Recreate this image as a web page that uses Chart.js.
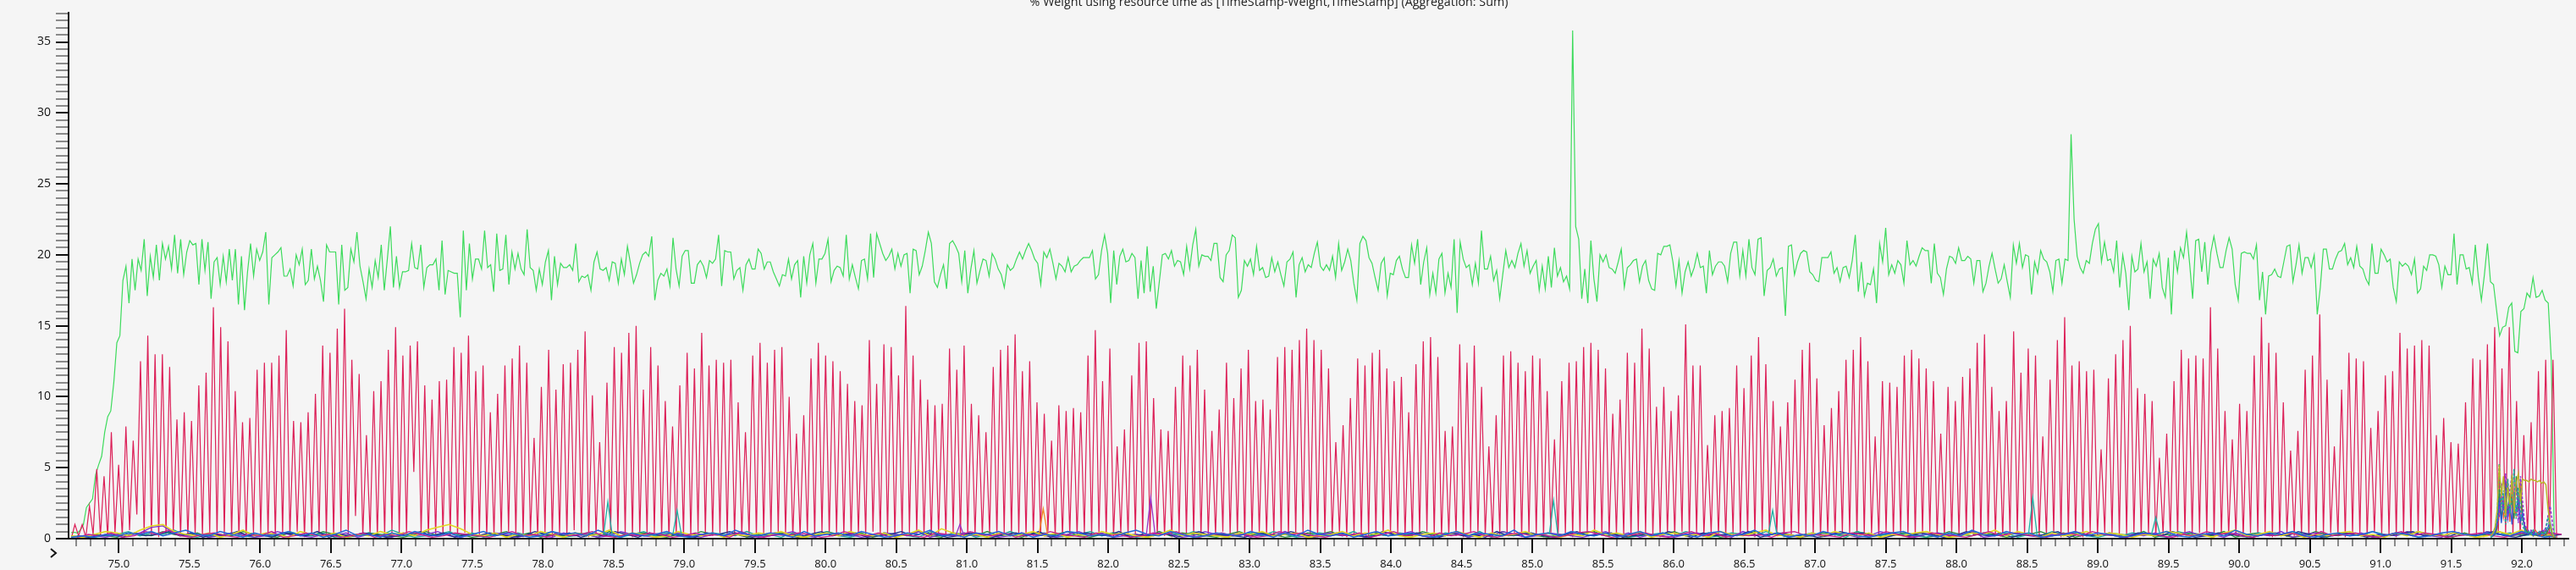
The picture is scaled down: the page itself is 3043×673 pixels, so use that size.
<!DOCTYPE html>
<html><head><meta charset="utf-8">
<script src="https://cdn.jsdelivr.net/npm/chart.js@4.4.1/dist/chart.umd.min.js"></script>
<style>html,body{margin:0;padding:0;background:#f5f5f5;overflow:hidden}canvas{display:block}</style>
</head><body><canvas id="c" width="3043" height="673"></canvas>
<script>
const TITLE = '% Weight using resource time as [TimeStamp-Weight,TimeStamp] (Aggregation: Sum)';
const X_MIN = 74.645, X_MAX = 92.335, Y_MIN = 0, Y_MAX = 37;
const X_MAJOR = 0.5, X_MINOR = 0.1, Y_MAJOR = 5, Y_MINOR = 0.5;

// Green series (largest process), sampled on a regular time grid
const GREEN_START = 74.664, GREEN_STEP = 0.0215;
const green = [
0.42,0.45,0.4,0.6,1.0,2.2,2.5,2.8,4.5,5.2,5.8,7.5,8.6,9.0,11.0,13.8,14.3,18.2,
19.2,16.6,19.7,17.5,19.7,18.9,21.1,17.1,19.9,18.4,20.7,18.2,20.8,19.7,20.6,19.0,21.4,18.7,21.1,18.6,
20.2,21.0,20.7,20.8,17.9,21.1,18.9,20.9,16.9,19.5,19.8,17.9,19.9,18.1,20.4,18.2,20.4,16.5,19.9,16.1,
18.8,20.8,18.5,20.4,19.6,20.2,21.6,16.5,19.8,20.0,20.2,20.5,18.5,18.5,19.0,17.8,20.0,19.3,20.4,17.9,
18.2,20.4,18.3,19.2,18.2,16.7,20.7,20.2,20.2,20.2,16.5,20.7,17.5,17.7,20.4,19.5,21.6,19.2,18.1,16.9,
19.0,17.7,19.6,18.4,20.7,17.5,19.7,22.0,17.7,19.9,17.7,18.8,18.8,18.9,20.8,19.1,19.0,20.7,17.7,19.1,
19.3,19.3,19.7,17.5,21.0,17.2,18.9,18.8,18.7,18.7,15.6,21.7,17.5,20.8,18.3,19.7,19.7,19.0,21.7,19.1,
19.3,17.4,21.5,18.9,19.0,21.4,17.9,20.2,19.0,20.1,19.0,18.6,21.8,19.1,18.9,17.5,19.0,17.9,19.5,20.3,
16.8,19.9,17.9,19.4,19.1,19.1,19.3,18.9,
20.8,18.1,18.5,18.4,18.6,17.5,19.5,20.2,19.0,18.9,19.1,18.2,19.5,19.4,18.0,19.7,18.6,
20.6,19.4,18.0,18.6,19.4,20.0,20.2,19.9,21.3,16.8,18.2,18.7,18.5,19.0,17.8,21.2,19.0,
17.8,19.9,20.3,20.3,18.0,18.0,19.3,19.6,19.2,18.4,19.6,19.4,19.7,21.4,17.8,20.3,
20.2,20.2,18.3,18.9,19.1,17.5,19.3,19.7,19.0,19.0,20.4,20.1,19.0,19.5,19.5,18.8,18.3,
17.8,18.6,18.5,19.7,18.3,19.3,19.6,17.0,19.9,18.0,20.0,20.8,18.0,19.7,19.7,20.1,21.1,
18.1,18.9,19.2,19.1,18.5,21.4,18.3,19.3,18.4,17.6,19.6,19.7,18.3,21.5,18.4,21.5,
20.8,20.1,19.6,19.9,20.4,19.0,20.1,19.2,20.0,20.1,17.3,20.4,20.3,18.6,19.2,20.3,21.6,
20.8,18.1,17.7,18.6,19.3,17.6,20.8,21.0,20.6,20.1,18.1,20.3,17.3,19.0,20.3,18.0,18.9,
19.7,19.6,18.5,20.1,19.7,19.0,18.6,17.7,19.3,18.9,19.1,19.7,20.2,19.7,20.3,20.8,
20.3,19.7,19.4,17.9,20.2,19.8,20.4,19.4,18.3,19.4,19.2,18.8,19.8,18.8,19.2,19.3,19.6,
19.8,19.8,19.8,20.3,18.3,18.6,20.3,21.4,20.1,16.6,20.3,17.9,19.9,20.4,19.5,19.6,20.1,
19.8,16.9,19.6,17.3,20.6,17.4,19.2,16.2,18.1,20.0,20.1,19.7,20.3,19.2,19.6,19.5,18.6,
20.6,19.0,20.7,21.8,19.2,20.0,19.9,19.9,19.6,20.8,20.8,18.4,18.1,20.0,20.3,21.4,
21.2,17.0,17.5,19.6,19.2,19.7,18.6,20.6,18.9,19.1,18.4,18.5,19.8,18.8,19.5,18.6,17.8,
19.5,19.7,20.2,17.0,19.3,19.8,18.8,19.3,19.1,20.1,20.9,19.2,18.9,19.3,18.9,19.9,18.4,
20.8,18.9,19.5,20.4,19.6,18.0,16.8,20.8,21.3,21.0,19.8,19.4,18.4,17.5,19.4,19.8,
17.1,18.7,18.6,19.6,19.9,19.0,18.4,18.4,20.7,19.4,21.1,17.9,19.5,20.5,17.2,18.7,17.3,
19.7,20.1,17.3,18.7,17.7,21.1,15.9,20.9,19.7,19.1,19.3,17.9,19.4,18.0,21.7,19.0,19.0,
19.9,18.2,18.9,16.9,18.6,20.3,19.1,19.6,19.1,20.1,20.8,19.2,20.3,18.7,19.2,19.6,
17.5,19.2,17.6,19.9,17.7,20.5,18.5,19.1,18.1,18.5,17.6,
35.8,22.0,21.1,16.9,19.0,16.6,
21.0,18.3,16.7,20.0,19.5,20.0,19.1,19.0,18.7,19.5,20.4,17.7,19.1,19.3,19.6,19.7,18.1,
19.2,19.6,18.2,17.6,17.5,20.1,20.0,20.6,20.6,20.7,19.5,17.8,19.6,17.3,18.8,19.5,18.5,
19.1,20.1,19.1,19.2,17.3,20.3,18.6,19.2,19.5,19.5,19.2,18.1,20.1,20.9,20.9,18.5,
20.3,18.5,21.1,19.1,18.6,21.1,21.2,17.1,18.9,19.1,19.7,18.5,19.0,19.1,15.7,20.6,20.7,
18.6,19.5,20.1,20.3,20.2,18.8,18.6,18.2,18.1,19.8,19.8,19.8,20.2,18.7,19.1,18.1,19.1,
19.2,18.4,19.6,21.4,17.4,19.5,17.1,18.0,17.9,19.0,16.6,20.8,19.5,21.9,18.6,19.3,
18.7,19.6,19.3,18.0,21.0,19.3,19.6,19.2,19.9,20.5,20.3,20.3,18.0,20.8,18.7,18.4,17.2,
19.0,19.9,19.8,19.4,20.5,19.6,19.6,19.9,19.7,18.0,19.6,19.6,17.4,18.0,19.2,20.1,19.0,
18.0,18.3,19.3,18.1,17.0,20.7,19.4,20.8,19.1,20.0,19.9,17.2,19.5,18.7,20.3,19.7,
19.5,18.8,17.4,19.6,19.7,18.0,19.7,19.6,
28.5,22.5,19.9,19.1,18.7,19.6,19.4,20.8,21.8,
22.2,19.5,20.9,19.6,19.7,18.8,21.0,17.7,20.0,18.7,16.1,19.9,18.8,19.0,20.8,18.8,19.5,
16.9,19.7,19.2,20.1,17.7,17.0,19.8,15.8,20.3,18.8,20.5,19.8,21.6,19.4,16.9,21.0,21.1,
18.8,20.9,17.9,20.2,21.3,20.1,19.1,19.1,20.3,21.2,20.4,17.9,16.8,20.1,20.2,20.1,
20.1,19.7,20.7,16.8,18.8,15.8,18.5,18.6,19.0,18.5,18.4,19.5,20.6,20.7,18.1,19.3,20.7,
18.7,19.8,19.8,19.1,20.0,15.8,17.7,20.4,20.4,19.0,19.0,19.7,20.2,20.3,20.8,19.3,19.8,
19.1,20.6,19.2,19.0,18.3,17.9,20.8,18.7,18.7,20.4,20.0,19.5,19.7,17.7,16.7,19.5,
19.2,19.4,19.2,18.6,19.7,17.3,17.6,19.2,18.9,20.0,20.0,19.9,19.3,17.7,19.2,18.6,18.6,
21.5,17.9,20.0,20.0,19.0,19.1,18.0,20.7,18.4,
16.8,18.6,20.8,18.1,17.9,16.1,14.3,14.9,15.0,16.3,16.6,13.2,13.1,16.0,16.2,17.3,17.0,18.4,17.0,17.1,17.5,16.8,16.6,12.6,0
];

// Red series: alternating lows and peaks on its own grid
const RED_START = 74.664, RED_STEP = 0.02578;
const redPeaks = [
1.0,1.0,2.3,4.9,4.4,7.5,5.2,7.9,6.9,12.5,14.3,13.0,13.0,12.1,8.4,8.9,8.3,10.8,11.7,16.3,
14.9,13.9,10.4,8.2,8.5,11.9,12.4,12.4,12.9,14.7,8.3,8.2,8.9,10.2,13.6,13.1,14.8,16.2,12.6,11.6,
7.3,10.4,11.1,13.3,14.9,12.9,13.6,13.9,10.8,9.8,11.1,11.2,13.5,13.1,14.3,11.8,12.2,8.9,10.2,12.2,
12.7,13.6,12.4,7.1,10.7,13.3,10.5,12.3,12.4,
13.3,14.6,10.1,6.8,11.0,13.5,13.1,14.5,15.0,10.5,13.5,12.2,9.7,7.9,10.8,13.1,12.0,14.5,12.2,12.6,
12.4,12.6,9.6,7.5,12.9,13.8,12.4,13.3,13.5,10.0,7.4,8.7,12.7,13.8,12.9,12.5,11.8,10.9,9.7,9.4,
14.0,10.9,13.7,13.5,11.5,16.4,12.9,11.2,9.8,9.4,9.5,13.4,11.9,13.6,9.5,8.7,7.5,12.1,13.3,13.6,
14.4,11.8,12.5,9.6,8.8,6.9,9.4,9.0,9.2,8.9,
12.9,14.7,11.1,13.4,6.5,7.7,11.5,13.8,13.9,9.9,7.7,7.6,10.7,12.9,12.2,13.3,10.5,7.6,9.1,12.4,
9.9,12.0,13.3,9.7,9.8,9.1,12.8,13.5,13.3,14.0,14.8,14.0,13.3,12.0,6.8,8.0,9.9,12.7,12.2,13.1,
13.3,12.0,11.1,11.4,8.9,12.3,13.9,14.2,12.8,7.6,7.9,13.7,12.4,13.6,10.7,6.5,8.7,12.9,13.2,12.4,
11.8,12.9,12.7,10.4,7.0,11.1,12.4,12.5,13.5,13.8,
13.3,12.0,8.8,9.8,13.1,12.4,14.8,13.4,9.3,10.7,9.0,10.1,15.1,12.2,12.2,6.6,8.7,9.0,9.2,12.2,
10.6,12.9,14.2,12.3,9.7,7.9,9.6,11.2,13.3,13.8,11.3,8.0,9.2,10.4,12.6,13.3,14.2,12.5,7.2,11.1,
11.0,10.7,12.9,13.3,12.7,12.0,11.1,7.4,10.7,9.7,11.4,12.0,13.8,14.4,10.7,9.0,9.7,14.6,11.7,13.4,
12.9,7.2,11.2,14.0,15.6,12.2,12.5,11.8,11.9,
6.3,11.3,13.0,14.0,15.0,10.6,10.2,9.7,5.7,7.4,11.1,13.3,12.7,12.9,12.7,16.3,13.4,9.0,7.0,9.5,
9.0,12.9,15.6,13.8,13.1,9.6,6.2,7.6,11.9,12.9,15.8,11.2,6.5,10.5,13.1,12.7,12.5,7.8,9.0,11.5,
11.8,14.5,13.4,13.6,14.0,13.6,7.3,8.5,6.8,6.7,9.6,12.7,12.6,13.7,14.9,12.0,14.9,9.7,7.3,8.2,
11.8,12.6,12.6
];
const redLows = [
0,.2,.1,.3,.2,.1,.4,.2,.6,1.7,.3,.2,.1,.3,.5,.2,.1,.3,.2,.4,
.1,.3,.2,.2,.1,.4,.3,.2,.1,.3,.2,.5,.1,.2,.3,.2,.1,.4,.3,1.6,
.2,.3,.1,.2,.4,.3,.2,4.7,.3,.1,.2,.3,.2,.1,.4,.2,.3,.1,.2,.3,
.5,.2,.1,.3,.2,.4,.1,.3,.2,.6,.2,.1,.3,.2,.4,.2,.3,.1,.2,.3,
.4,.2,.1,.3,.2,.1,.5,.3,.2,.4,.1,.2,.3,.2,.1,.3,.2,.4,.3,.1,
.2,.3,.1,.4,.2,.3,.2,.1,.3,.2,.5,.2,.3,.1,.2,.4,.3,.2,.1,.3,
.2,.4,.1,.3,.2,.2,.3,.1,.4,.2,.3,.1,.2,.3,.5,.2,.1,.3,.2,.4,
.1,.3,.2,.1,.4,.2,.3,.1,.2,.3,.2,.1,.4,.3,.2,.1,.3,.2,.5,.2,
.3,.1,.2,.4,.2,.3,.1,.2,.3,.4,.2,.1,.3,.2,.4,.1,.3,.2,.1,.3,
.2,.4,.3,.1,.2,.3,.5,.2,.1,.3,.2,.1,.4,.3,.2,.1,.3,.2,.4,.1,
.3,.2,.1,.4,.2,.3,.1,.2,.3,.4,.2,.1,.3,.2,.1,.4,.3,.2,.1,.3,
.2,.5,.1,.3,.2,.4,.2,.1,.3,.2,.3,.1,.4,.2,.3,.1,.2,.4,.3,.2,
.1,.3,.2,.4,.3,.1,.2,.3,.1,.4,.2,.3,.2,.1,.3,.5,.2,.1,.3,.2,
.4,.2,.1,.3,.2,.1,.4,.3,.2,.3,.1,.2,.4,.1,.3,.2,.1,.3,.2,.4,
.3,.1,.2,.3,.2,.4,.1,.3,.2,.1,.3,.2,.4,.3,.1,.2,.3,.2,.1,.4,
.2,.3,.1,.2,.4,.2,.3,.1,.2,.3,.4,.2,.1,.3,.2,.1,.4,.3,.2,.1,
.3,.2,.4,.1,.3,.2,.1,.3,.4,.2,.3,.1,.2,.4,.3,.2,.1,.3,.2,.1,
0,0
];

// Low background processes (coarser grid)
const NOISE_START = 74.664, NOISE_STEP = 0.081;
const NOISE_START_B = 74.7045;
const noiseBlue = [
.1,.2,.1,.3,.2,.4,.3,.5,.2,.4,.6,.3,.2,.5,.3,.1,.4,.2,.3,.5,
.2,.4,.1,.3,.6,.2,.3,.1,.4,.2,.5,.3,.2,.4,.1,.3,.5,.2,.4,.3,
.1,.2,.5,.3,.4,.2,.6,.3,.1,.4,.2,.3,.5,.2,.1,.3,.4,.2,.6,.3,
.2,.4,.3,.1,.5,.2,.3,.4,.2,.5,.3,.1,.2,.4,.3,.6,.2,.3,.1,.4,
.3,.5,.2,.4,.1,.3,.2,.5,.4,.2,.3,.1,.4,.6,.3,.2,.5,.3,.1,.2,
.4,.3,.2,.5,.3,.1,.4,.2,.6,.3,.2,.4,.1,.3,.5,.2,.3,.4,.2,.1,
.3,.5,.2,.4,.3,.2,.6,.1,.3,.4,.2,.5,.3,.2,.4,.1,.3,.5,.2,.4,
.2,.3,.1,.4,.5,.2,.3,.6,.2,.4,.1,.3,.2,.5,.3,.4,.2,.1,.3,.4,
.5,.2,.3,.1,.4,.2,.6,.3,.2,.5,.3,.4,.1,.2,.3,.5,.2,.4,.3,.1,
.2,.4,.3,.5,.2,.1,.3,.4,.2,.6,.3,.2,.4,.3,.5,.2,.1,.3,.4,.2,
.3,.5,.2,.4,.3,.1,.2,.4,.5,.3,.2,.4,.3,.2,.5,.3,.1,.2
];
const noiseYellow = [
.2,.1,.3,.5,.4,.2,.6,.9,1.0,.5,.3,.2,.4,.1,.3,.6,.2,.4,.3,.1,
.5,.3,.2,.4,.1,.3,.2,.5,.3,.4,.2,.6,.8,1.0,.7,.3,.2,.4,.1,.3,
.2,.5,.3,.1,.4,.2,.3,.6,.2,.4,.3,.1,.2,.5,.3,.2,.4,.1,.3,.2,
.4,.3,.5,.2,.1,.3,.4,.2,.5,.3,.2,.4,.1,.3,.6,.2,.7,.4,.2,.3,
.1,.4,.2,.3,.5,.2,.4,.1,.3,.2,.5,.3,.4,.2,.1,.3,.6,.2,.4,.3,
.2,.1,.4,.3,.5,.2,.3,.4,.1,.2,.3,.5,.2,.4,.3,.6,.2,.1,.3,.4,
.2,.5,.3,.1,.4,.2,.3,.5,.2,.4,.1,.3,.2,.6,.3,.4,.2,.5,.1,.3,
.4,.2,.3,.1,.5,.3,.2,.4,.6,.2,.3,.1,.4,.2,.5,.3,.2,.4,.1,.3,
.2,.4,.5,.3,.1,.2,.4,.3,.6,.2,.5,.3,.1,.4,.2,.3,.5,.2,.4,.3,
.1,.3,.2,.5,.4,.2,.3,.1,.4,.6,.2,.3,.5,.2,.4,.1,.3,.2,.4,.5,
.2,.3,.1,.4,.2,.5,.3,.2,.4,.3,.1,.2,.5,.3,.6,.2,.3,.2
];
const noisePurple = [
0,.1,.2,.1,.3,.2,.4,.8,.9,.4,.2,.3,.1,.2,.4,.3,.1,.2,.5,.3,
.2,.1,.3,.2,.4,.1,.3,.2,.1,.4,.2,.3,.5,.2,.1,.3,.2,.4,.3,.1,
.3,.2,.1,.4,.2,.3,.1,.2,.5,.3,.2,.1,.3,.4,.2,.1,.3,.2,.4,.3,
.1,.2,.3,.5,.2,.1,.4,.2,.3,.1,.2,.4,.3,.2,.5,.1,.3,.2,.4,.2,
.3,.1,.2,.4,.3,.2,.1,.3,.5,.2,.4,.1,.2,.3,.2,.4,.3,.1,.2,.5,
.3,.2,.4,.1,.3,.2,.5,.2,.1,.3,.4,.2,.3,.1,.2,.4,.3,.5,.2,.1,
.2,.4,.1,.3,.2,.5,.3,.1,.2,.4,.3,.2,.1,.3,.5,.2,.4,.1,.3,.2,
.1,.3,.4,.2,.3,.1,.5,.2,.3,.4,.2,.1,.3,.2,.4,.3,.1,.2,.5,.3,
.2,.1,.3,.4,.2,.3,.5,.1,.2,.3,.4,.2,.1,.3,.2,.5,.3,.2,.4,.1,
.3,.2,.4,.1,.3,.5,.2,.3,.1,.4,.2,.3,.2,.5,.1,.3,.4,.2,.3,.2,
.4,.1,.3,.2,.5,.3,.2,.1,.4,.3,.2,.5,.3,.2,.4,.3,.6,.2
];
const noiseTeal = [
.1,.2,.1,.2,.3,.5,.2,.4,.3,.6,.2,.1,.3,.2,.4,.2,.1,.3,.2,.5,
.3,.2,.4,.1,.2,.3,.4,.2,.6,.3,.1,.2,.3,.5,.2,.4,.1,.3,.2,.4,
.2,.3,.5,.1,.2,.4,.3,.2,.1,.3,.5,.2,.4,.3,.1,.2,.4,.3,.2,.5,
.2,.3,.1,.4,.2,.3,.5,.2,.1,.3,.2,.4,.3,.2,.1,.5,.3,.2,.4,.1,
.3,.2,.5,.2,.3,.4,.1,.2,.3,.5,.2,.4,.3,.1,.2,.3,.4,.2,.5,.3,
.2,.1,.3,.4,.2,.5,.3,.1,.2,.4,.3,.2,.5,.1,.3,.2,.4,.3,.2,.1,
.4,.3,.2,.5,.1,.3,.2,.4,.3,.2,.1,.5,.3,.2,.4,.3,.1,.2,.3,.4,
.2,.5,.3,.1,.2,.4,.3,.2,.5,.3,.1,.2,.4,.2,.3,.1,.5,.3,.2,.4,
.3,.2,.1,.4,.3,.2,.5,.3,.2,.4,.1,.3,.2,.5,.3,.4,.2,.1,.3,.2,
.4,.3,.2,.1,.5,.3,.2,.4,.2,.3,.1,.4,.3,.2,.5,.3,.2,.1,.4,.3,
.2,.5,.3,.2,.4,.1,.3,.2,.4,.3,.2,.5,.3,.4,.2,.3,.5,.3
];
const noiseGreen = [
.2,.1,.3,.2,.1,.4,.3,.2,.5,.3,.2,.4,.1,.3,.2,.5,.3,.2,.1,.4,
.3,.2,.5,.3,.1,.2,.4,.3,.2,.1,.3,.5,.2,.4,.3,.1,.2,.3,.5,.2,
.4,.1,.3,.2,.4,.3,.1,.5,.2,.3,.4,.2,.1,.3,.2,.5,.3,.2,.4,.1,
.3,.2,.4,.3,.1,.2,.5,.3,.2,.4,.1,.3,.2,.3,.5,.2,.1,.4,.3,.2,
.5,.2,.3,.1,.4,.2,.3,.5,.2,.1,.3,.4,.2,.3,.1,.5,.2,.4,.3,.2,
.1,.3,.5,.2,.4,.3,.1,.2,.4,.3,.5,.2,.3,.1,.4,.2,.3,.2,.5,.3,
.2,.4,.1,.3,.2,.5,.3,.4,.2,.1,.3,.2,.4,.5,.2,.3,.1,.4,.2,.3,
.5,.2,.3,.4,.1,.2,.3,.5,.2,.4,.3,.1,.2,.4,.3,.2,.5,.1,.3,.2,
.4,.3,.1,.2,.5,.3,.2,.4,.3,.1,.2,.3,.5,.2,.4,.1,.3,.2,.4,.3,
.2,.5,.1,.3,.2,.4,.3,.2,.5,.1,.3,.4,.2,.3,.1,.2,.5,.3,.2,.4,
.3,.1,.2,.4,.3,.5,.2,.3,.1,.4,.2,.3,.5,.2,.3,.4,.2,.1
];
const noiseMagenta = [
.1,.3,.2,.4,.1,.2,.5,.3,.6,.2,.1,.3,.4,.2,.1,.3,.2,.5,.1,.2,
.4,.2,.3,.1,.2,.4,.1,.3,.2,.5,.3,.1,.2,.4,.3,.2,.1,.3,.5,.2,
.3,.1,.4,.2,.3,.5,.2,.1,.3,.2,.4,.3,.1,.2,.4,.2,.3,.1,.5,.2,
.1,.3,.2,.4,.3,.1,.2,.5,.3,.2,.4,.1,.3,.2,.1,.4,.3,.2,.5,.3,
.2,.4,.1,.3,.2,.5,.3,.2,.1,.4,.2,.3,.1,.2,.4,.3,.5,.2,.1,.3,
.4,.2,.3,.1,.2,.5,.3,.4,.2,.1,.3,.2,.4,.1,.3,.5,.2,.3,.1,.4,
.2,.3,.5,.2,.1,.3,.4,.2,.3,.1,.2,.4,.5,.3,.1,.2,.3,.4,.2,.1,
.3,.5,.2,.4,.1,.3,.2,.3,.1,.4,.5,.2,.3,.2,.1,.4,.3,.2,.5,.3,
.1,.2,.4,.3,.2,.1,.3,.5,.2,.4,.3,.2,.1,.3,.4,.2,.5,.3,.2,.1,
.3,.4,.2,.1,.3,.2,.5,.3,.4,.2,.1,.3,.2,.4,.3,.1,.5,.2,.3,.4,
.2,.1,.3,.5,.2,.4,.3,.1,.2,.3,.4,.2,.1,.3,.5,.2,.4,.3
];
const noiseNavy = [
.2,.1,.2,.3,.1,.4,.2,.3,.5,.2,.4,.1,.3,.2,.5,.2,.3,.1,.4,.3,
.2,.5,.1,.3,.2,.4,.3,.1,.2,.3,.5,.2,.4,.1,.3,.2,.4,.3,.1,.2,
.5,.3,.2,.4,.1,.3,.2,.5,.3,.1,.4,.2,.3,.2,.1,.4,.3,.5,.2,.1,
.3,.4,.2,.1,.3,.5,.2,.3,.4,.1,.2,.3,.5,.2,.4,.3,.1,.2,.4,.2,
.1,.3,.4,.2,.5,.1,.3,.2,.4,.3,.2,.5,.1,.3,.2,.4,.1,.3,.5,.2,
.3,.2,.1,.4,.3,.2,.5,.3,.1,.2,.4,.3,.2,.1,.5,.3,.2,.4,.3,.1,
.4,.2,.3,.1,.5,.2,.3,.4,.2,.1,.3,.5,.2,.3,.4,.1,.2,.3,.2,.5,
.3,.1,.4,.2,.3,.2,.5,.1,.3,.4,.2,.3,.1,.2,.5,.3,.4,.2,.1,.3,
.2,.4,.3,.1,.2,.5,.3,.2,.4,.1,.3,.2,.3,.5,.1,.4,.2,.3,.2,.1,
.4,.3,.2,.5,.3,.1,.2,.4,.3,.2,.1,.3,.4,.2,.5,.3,.1,.2,.4,.3,
.1,.3,.2,.4,.5,.2,.3,.1,.4,.2,.3,.5,.2,.1,.3,.4,.2,.3
];

// Isolated short bursts of other processes
const spikeTealT = [78.43,78.46,78.49, 78.92,78.95,78.98, 85.12,85.15,85.18, 86.67,86.70,86.73, 88.51,88.54,88.57, 89.38,89.41,89.44];
const spikeTealV = [.3,2.6,.3, .3,2.0,.3, .3,2.7,.3, .3,2.0,.3, .3,2.9,.3, .3,1.5,.3];
const spikePurpleT = [80.92,80.95,80.98, 82.27,82.30,82.33];
const spikePurpleV = [.2,1.0,.2, .3,2.9,.4];
const spikeOrangeT = [81.51,81.54,81.57];
const spikeOrangeV = [.3,2.1,.3];

// End-of-trace burst of many processes
const BURST_START = 91.78, BURST_STEP = 0.015;
const burstOlive  = [0.2,0.4,0.8,2.0,5.2,3.0,4.4,1.6,3.6,2.4,4.5,1.8,3.9,4.6,2.6,4.2,4.1,4.1,4.0,4.2,4.1,4.1,4.0,4.1,3.9,4.0,3.8,2.1,1.0,0.4,0.1];
const burstTeal   = [0.1,0.3,0.6,1.4,5.3,2.2,3.4,1.0,4.2,1.8,3.0,4.9,1.4,3.6,2.1,0.9,0.6,0.4,0.5,0.3,0.6,0.4,0.3,0.5,0.4,0.3,0.6,1.5,0.8,0.3,0.1];
const burstPurple = [0.2,0.3,0.5,0.9,1.6,3.9,2.0,4.6,1.3,3.4,4.5,2.2,3.8,1.1,4.4,2.6,1.0,0.7,0.5,0.6,0.4,0.5,0.3,0.4,0.6,0.5,0.8,1.6,2.3,1.2,0.1];
const burstBlue   = [0.1,0.2,0.4,1.2,2.6,1.1,2.9,3.2,1.4,2.5,1.0,3.3,2.0,2.8,1.2,1.8,0.6,0.4,0.3,0.5,0.2,0.4,0.3,0.2,0.4,0.3,0.5,0.8,1.2,0.4,0.1];
const burstGreen  = [0.1,0.2,0.3,0.8,3.5,1.5,2.2,4.0,1.8,3.1,2.7,1.4,4.4,2.0,3.3,1.6,0.8,0.5,0.4,0.3,0.5,0.4,0.2,0.3,0.5,0.4,0.3,0.6,0.9,0.3,0.1];
const burstOrange = [0.1,0.2,0.4,0.7,1.8,3.0,1.5,2.4,4.2,1.2,3.6,2.2,1.6,3.0,4.0,1.4,0.9,0.6,0.4,0.3,0.5,0.6,0.4,0.3,0.2,0.4,0.6,0.4,0.3,0.2,0.1];

// ---------- build data tables ----------
const grid = (start, step, arr) => arr.map((v, i) => ({x: start + i * step, y: v}));
const pairs = (ts, vs) => {
  const out = [];
  ts.forEach((t, i) => {
    if (i > 0 && t - ts[i - 1] > 0.2) out.push({x: (t + ts[i - 1]) / 2, y: null});
    out.push({x: t, y: vs[i]});
  });
  return out;
};
const redData = [];
for (let k = 0; k < redLows.length; k++) {
  redData.push({x: RED_START + 2 * k * RED_STEP, y: redLows[k]});
  if (k < redPeaks.length) redData.push({x: RED_START + (2 * k + 1) * RED_STEP, y: redPeaks[k]});
}

const line = (data, color, width, extra) => Object.assign({
  data, borderColor: color, backgroundColor: color, borderWidth: width,
  pointRadius: 0, fill: false, tension: 0, spanGaps: false
}, extra || {});

const datasets = [
  line(grid(BURST_START, BURST_STEP, burstOlive), '#b9b627', 1.4),
  line(grid(BURST_START, BURST_STEP, burstTeal), '#23ad9c', 1.6, {borderDash: [3, 2]}),
  line(grid(BURST_START, BURST_STEP, burstPurple), '#8b2bd3', 1.5, {borderDash: [3, 2]}),
  line(grid(BURST_START, BURST_STEP, burstBlue), '#2a5bd7', 1.3),
  line(grid(BURST_START, BURST_STEP, burstGreen), '#2f8b3f', 1.3),
  line(grid(BURST_START, BURST_STEP, burstOrange), '#e8602a', 1.3),
  line(pairs(spikeTealT, spikeTealV), '#1fb0a4', 1.3),
  line(pairs(spikePurpleT, spikePurpleV), '#9a2fc4', 1.3),
  line(pairs(spikeOrangeT, spikeOrangeV), '#ef8a22', 1.3),
  line(grid(NOISE_START, NOISE_STEP, noiseBlue), '#2466d8', 1.5),
  line(grid(NOISE_START_B, NOISE_STEP, noiseMagenta), '#c8208e', 1.4),
  line(grid(NOISE_START, NOISE_STEP, noiseYellow), '#e2d820', 1.6),
  line(grid(NOISE_START_B, NOISE_STEP, noiseNavy), '#22308a', 1.4),
  line(grid(NOISE_START, NOISE_STEP, noisePurple), '#7d2fd2', 1.4),
  line(grid(NOISE_START, NOISE_STEP, noiseTeal), '#1ea89a', 1.4),
  line(grid(NOISE_START, NOISE_STEP, noiseGreen), '#2c8c3c', 1.4),
  line(redData, '#dc2058', 1.2),
  line(grid(GREEN_START, GREEN_STEP, green), '#3ddb5c', 1.2)
];

const FONT = "'Segoe UI','Open Sans',sans-serif";

const decor = {
  id: 'decor',
  beforeDraw(chart) {
    const {ctx, width, height} = chart;
    ctx.save();
    ctx.fillStyle = '#f5f5f5';
    ctx.fillRect(0, 0, width, height);
    ctx.restore();
  },
  afterDraw(chart) {
    const {ctx, chartArea: a, scales: {x, y}} = chart;
    ctx.save();
    for (let k = 0; k * Y_MINOR <= Y_MAX + 1e-9; k++) {
      const v = k * Y_MINOR;
      const py = Math.round(y.getPixelForValue(v));
      const major = Math.abs(v / Y_MAJOR - Math.round(v / Y_MAJOR)) < 1e-9;
      ctx.fillStyle = major ? '#111' : '#8a8a8a';
      ctx.fillRect(a.left - 15, py - 1, 15, 2);
    }
    const k0 = Math.ceil(X_MIN / X_MINOR - 1e-9), k1 = Math.floor(X_MAX / X_MINOR + 1e-9);
    for (let k = k0; k <= k1; k++) {
      const v = k * X_MINOR;
      const px = Math.round(x.getPixelForValue(v));
      const major = Math.abs(v / X_MAJOR - Math.round(v / X_MAJOR)) < 1e-6;
      ctx.fillStyle = major ? '#111' : '#8a8a8a';
      ctx.fillRect(px - 1, a.bottom, 2, major ? 17 : 9);
    }
    ctx.fillStyle = '#111';
    ctx.fillRect(a.left - 1, a.top - 2, 2, a.bottom - a.top + 3);
    ctx.fillRect(a.left - 1, a.bottom - 1, a.right - a.left + 1, 2);
    ctx.strokeStyle = '#111';
    ctx.lineWidth = 2;
    ctx.beginPath();
    ctx.moveTo(60, 648); ctx.lineTo(66, 653); ctx.lineTo(60, 658);
    ctx.stroke();
    ctx.fillStyle = '#222';
    ctx.font = '14px ' + FONT;
    const w = ctx.measureText(TITLE).width;
    const size = 14 * 565 / w;
    ctx.font = size.toFixed(2) + 'px ' + FONT;
    ctx.textAlign = 'center';
    ctx.textBaseline = 'alphabetic';
    ctx.fillText(TITLE, 1499, 6.5);
    ctx.restore();
  }
};

new Chart(document.getElementById('c'), {
  type: 'line',
  data: {datasets},
  plugins: [decor],
  options: {
    responsive: false, animation: false, devicePixelRatio: 1, events: [],
    layout: {padding: {left: 0, right: 8, top: 16, bottom: 0}},
    plugins: {legend: {display: false}, tooltip: {enabled: false}, title: {display: false}},
    scales: {
      x: {
        type: 'linear', min: X_MIN, max: X_MAX,
        border: {display: false}, grid: {display: false, drawTicks: false},
        ticks: {stepSize: X_MAJOR, includeBounds: false, autoSkip: false, maxRotation: 0, minRotation: 0,
                padding: 22, color: '#111', font: {family: FONT, size: 13},
                callback: v => Number(v).toFixed(1)},
        afterFit: s => { s.height = 37; s.paddingLeft = 0; s.paddingRight = 0; }
      },
      y: {
        type: 'linear', min: Y_MIN, max: Y_MAX,
        border: {display: false}, grid: {display: false, drawTicks: false},
        ticks: {stepSize: Y_MAJOR, includeBounds: false, autoSkip: false,
                padding: 21, color: '#111', font: {family: FONT, size: 14},
                callback: v => String(v)},
        afterFit: s => { s.width = 81; s.paddingTop = 0; s.paddingBottom = 0; }
      }
    }
  }
});
</script>
</body></html>
